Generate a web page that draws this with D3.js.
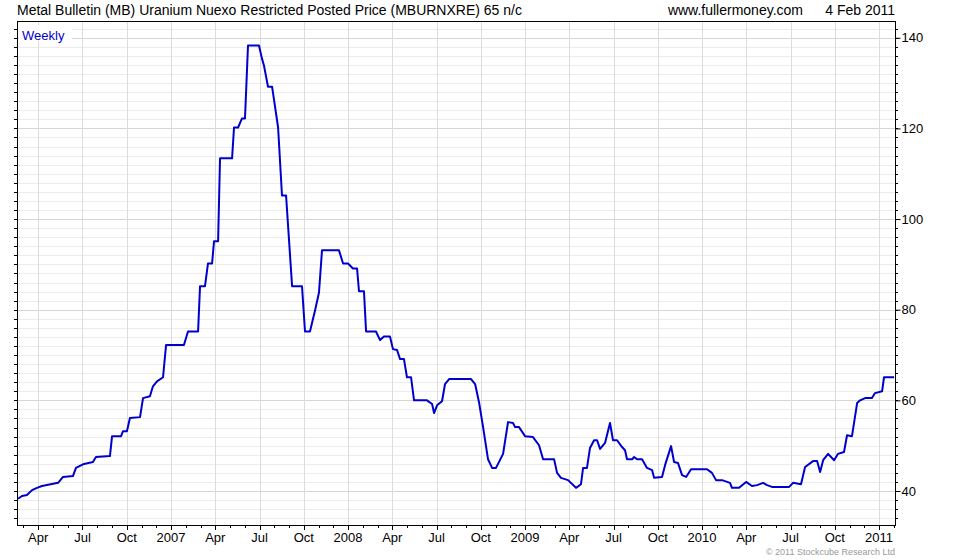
<!DOCTYPE html>
<html>
<head>
<script src="https://d3js.org/d3.v7.min.js"></script>
<style>
  body { margin: 0; background: #fff; }
  text { font-family: "Liberation Sans", Arial, sans-serif; }
</style>
</head>
<body>
<svg id="chart" width="980" height="560"></svg>
<script>
// weekly series, dates as fractional years
var dates = [2006.136,2006.158,2006.186,2006.215,2006.243,2006.271,2006.362,2006.390,2006.446,2006.463,2006.503,2006.559,2006.576,2006.655,2006.667,2006.718,2006.729,2006.751,2006.768,2006.825,2006.842,2006.881,2006.898,2006.921,2006.955,2006.972,2007.073,2007.096,2007.153,2007.164,2007.192,2007.209,2007.232,2007.243,2007.266,2007.277,2007.345,2007.356,2007.379,2007.401,2007.418,2007.435,2007.497,2007.514,2007.525,2007.548,2007.571,2007.605,2007.627,2007.650,2007.684,2007.740,2007.757,2007.785,2007.814,2007.836,2007.853,2007.949,2007.972,2008.000,2008.028,2008.051,2008.062,2008.090,2008.102,2008.158,2008.181,2008.203,2008.237,2008.254,2008.277,2008.294,2008.316,2008.333,2008.356,2008.373,2008.446,2008.475,2008.486,2008.503,2008.531,2008.548,2008.571,2008.695,2008.718,2008.740,2008.763,2008.791,2008.814,2008.836,2008.876,2008.904,2008.932,2008.944,2008.966,2009.000,2009.045,2009.079,2009.102,2009.164,2009.181,2009.203,2009.243,2009.288,2009.316,2009.328,2009.350,2009.367,2009.390,2009.407,2009.424,2009.452,2009.480,2009.497,2009.520,2009.548,2009.565,2009.576,2009.605,2009.616,2009.633,2009.661,2009.689,2009.718,2009.729,2009.774,2009.791,2009.825,2009.842,2009.864,2009.887,2009.910,2009.938,2010.028,2010.056,2010.079,2010.113,2010.158,2010.169,2010.209,2010.249,2010.282,2010.311,2010.345,2010.367,2010.395,2010.492,2010.514,2010.559,2010.582,2010.627,2010.650,2010.667,2010.684,2010.712,2010.746,2010.768,2010.802,2010.819,2010.847,2010.876,2010.893,2010.921,2010.960,2010.977,2011.017,2011.028,2011.085];
var prices = [38.3,38.9,39.1,40.2,40.7,41.1,41.8,43.1,43.3,45.1,45.9,46.4,47.5,47.7,52.1,52.1,53.2,53.2,56.1,56.3,60.5,60.9,63.1,64.2,65.1,72.2,72.2,75.2,75.2,85.2,85.2,90.2,90.2,95.1,95.1,113.4,113.4,120.2,120.2,122.2,122.2,138.3,138.3,135.4,133.9,129.2,129.2,120.2,105.2,105.2,85.2,85.2,75.2,75.2,79.9,83.8,93.1,93.1,90.2,90.2,89.1,89.1,84.1,84.1,75.2,75.2,73.3,74.1,74.1,71.3,71.1,69.1,69.1,65.1,65.1,60.0,60.0,59.2,57.2,58.9,59.8,63.6,64.7,64.7,63.6,59.6,54.1,47.0,45.1,45.1,48.2,55.2,55.0,54.1,54.1,52.1,51.9,50.1,47.0,47.0,44.0,42.9,42.4,40.7,41.5,45.1,45.1,49.5,51.2,51.2,49.3,50.6,55.0,51.2,51.2,49.7,49.0,47.0,47.0,47.5,47.0,47.0,45.1,44.6,42.9,43.1,45.7,49.9,46.4,46.2,43.5,43.1,44.8,44.8,44.0,42.4,42.4,41.8,40.7,40.7,42.0,41.1,41.3,41.8,41.3,40.9,40.9,41.8,41.5,45.3,46.6,46.6,44.2,46.8,48.2,46.8,48.2,48.6,52.3,52.1,59.4,60.0,60.5,60.5,61.6,62.0,65.1,65.1];
var yTicks = [40, 60, 80, 100, 120, 140];
var monthNames = ["Jan","Feb","Mar","Apr","May","Jun","Jul","Aug","Sep","Oct","Nov","Dec"];

var plotLeft = 17, plotRight = 895, plotTop = 21, plotBottom = 525;
var svg = d3.select("#chart");

var x = d3.scaleLinear().domain([2006.130, 2011.090]).range([plotLeft, plotRight]);
var y = d3.scaleLinear().domain([32.5, 143.7]).range([plotBottom, plotTop]);

// month positions
var months = [];
for (var yr = 2006; yr <= 2011; yr++) {
  for (var m = 0; m < 12; m++) {
    var t = yr + m / 12;
    if (t >= 2006.130 && t <= 2011.090) months.push({t: t, m: m, yr: yr});
  }
}
var quarters = months.filter(function(d) { return d.m % 3 == 0; });
function py(d) { return Math.round(y(d)) + 0.5; }

// horizontal grid
var minor = d3.range(34, 144, 2);
svg.append("g").selectAll("line").data(minor).enter().append("line")
  .attr("x1", plotLeft).attr("x2", plotRight)
  .attr("y1", py).attr("y2", py)
  .attr("stroke", function(d) { return d % 20 == 0 ? "#d6d6d6" : "#ececec"; });

// vertical grid
svg.append("g").selectAll("line").data(quarters).enter().append("line")
  .attr("x1", function(d) { return Math.round(x(d.t)) + 0.5; })
  .attr("x2", function(d) { return Math.round(x(d.t)) + 0.5; })
  .attr("y1", plotTop).attr("y2", plotBottom)
  .attr("stroke", "#dcdcdc");

// frame
svg.append("rect").attr("x", plotLeft + 0.5).attr("y", plotTop + 0.5)
  .attr("width", plotRight - plotLeft).attr("height", plotBottom - plotTop)
  .attr("fill", "none").attr("stroke", "#000");

// right axis
var yAxis = d3.axisRight(y).tickValues(yTicks).tickSize(5).tickFormat(d3.format("d"));
var ya = svg.append("g").attr("transform", "translate(" + (plotRight + 0.5) + ",0)").call(yAxis);
ya.select(".domain").remove();
ya.selectAll("text").attr("font-size", 13).attr("fill", "#000").attr("x", 6)
  .style("font-family", "'Liberation Sans', Arial, sans-serif");
svg.append("g").selectAll("line").data(minor).enter().append("line")
  .attr("x1", plotRight).attr("x2", plotRight + 3)
  .attr("y1", py).attr("y2", py).attr("stroke", "#000");
// left ticks
svg.append("g").selectAll("line").data(minor).enter().append("line")
  .attr("x1", plotLeft - 3).attr("x2", plotLeft)
  .attr("y1", py).attr("y2", py).attr("stroke", "#000");

// bottom axis
svg.append("g").selectAll("line").data(months).enter().append("line")
  .attr("x1", function(d) { return Math.round(x(d.t)) + 0.5; })
  .attr("x2", function(d) { return Math.round(x(d.t)) + 0.5; })
  .attr("y1", plotBottom).attr("y2", function(d) { return plotBottom + (d.m % 3 == 0 ? 5 : 3); })
  .attr("stroke", "#000");
svg.append("g").selectAll("text").data(quarters).enter().append("text")
  .attr("x", function(d) { return x(d.t); })
  .attr("y", plotBottom + 17)
  .attr("text-anchor", "middle")
  .attr("font-size", 13)
  .text(function(d) { return d.m == 0 ? d.yr : monthNames[d.m]; });

// price line
var pts = dates.map(function(d, i) { return [d, prices[i]]; });
svg.append("path").datum(pts)
  .attr("fill", "none").attr("stroke", "#0000cc").attr("stroke-width", 2)
  .attr("stroke-linejoin", "round")
  .attr("d", d3.line().x(function(d) { return x(d[0]); }).y(function(d) { return y(d[1]); }));

// labels
svg.append("rect").attr("x", 19).attr("y", 25).attr("width", 53).attr("height", 16).attr("fill", "#fff");
svg.append("text").attr("x", 22).attr("y", 40).attr("font-size", 13).attr("fill", "#0000cc").text("Weekly");
svg.append("text").attr("x", 17).attr("y", 15).attr("font-size", 14)
  .text("Metal Bulletin (MB) Uranium Nuexo Restricted Posted Price (MBURNXRE) 65 n/c");
svg.append("text").attr("x", 803).attr("y", 15).attr("font-size", 14).attr("text-anchor", "end")
  .text("www.fullermoney.com");
svg.append("text").attr("x", 895).attr("y", 15).attr("font-size", 14).attr("text-anchor", "end")
  .text("4 Feb 2011");
svg.append("text").attr("x", 895).attr("y", 555).attr("font-size", 9).attr("fill", "#999").attr("text-anchor", "end")
  .text("\u00a9 2011 Stockcube Research Ltd");
</script>
</body>
</html>
